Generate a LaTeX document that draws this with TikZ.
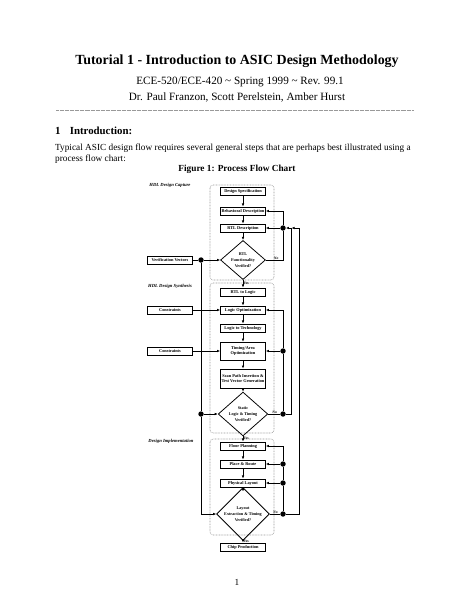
\documentclass[tikz,border=0pt]{standalone}
\usepackage{fontspec}
\setmainfont{Liberation Serif}
\usetikzlibrary{arrows.meta,shapes.geometric}
\begin{document}
\begin{tikzpicture}[x=1.29114pt,y=-1.29114pt,
  box/.style={draw, line width=1pt, minimum width=58pt, minimum height=10.5pt, inner sep=0.8pt, font=\fontsize{5.6}{6.4}\selectfont\bfseries, align=center},
  dia/.style={draw, diamond, line width=1pt, minimum width=58pt, minimum height=46pt, inner sep=0pt, font=\fontsize{5.4}{8}\selectfont\bfseries, align=center},
  lbl/.style={font=\fontsize{6}{6.5}\selectfont\bfseries\itshape},
  yn/.style={font=\fontsize{4.8}{5}\selectfont\bfseries\itshape, inner sep=0.6pt},
  jdot/.style={circle, fill=black, draw=none, inner sep=0pt, minimum size=7pt},
  arr/.style={-{Latex[length=4pt,width=3.4pt]}, line width=1.1pt},
  ln/.style={line width=1.1pt},
  frame/.style={draw=gray!80, dash pattern=on 1pt off 1pt, rounded corners=4pt, line width=0.7pt}]
\useasboundingbox[fill=white] (0,0) rectangle (474,613);

% header
\node[font=\fontsize{18}{20}\selectfont\bfseries] (title) at (237,61) {Tutorial 1 - Introduction to ASIC Design Methodology};
\node[font=\fontsize{14.4}{16}\selectfont] (sub1) at (240,82) {ECE-520/ECE-420 \textasciitilde\ Spring 1999 \textasciitilde\ Rev. 99.1};
\node[font=\fontsize{14.4}{16}\selectfont] (sub2) at (237,97) {Dr. Paul Franzon, Scott Perelstein, Amber Hurst};
\draw[gray!80, dash pattern=on 0.8pt off 0.8pt, line width=0.35pt] (56,110) -- (414,110);
\node[anchor=west, inner sep=0pt, font=\fontsize{14}{16}\selectfont\bfseries] (sec) at (55,131) {1\hspace{0.85em}Introduction:};
\node[anchor=west, inner sep=0pt, font=\fontsize{12}{14}\selectfont] (p1) at (55,148) {Typical ASIC design flow requires several general steps that are perhaps best illustrated using a};
\node[anchor=west, inner sep=0pt, font=\fontsize{12}{14}\selectfont] (p2) at (55,159.5) {process flow chart:};
\node[font=\fontsize{12}{14}\selectfont\bfseries] (cap) at (237,169) {Figure 1: Process Flow Chart};

% frames
\draw[frame] (210,185) rectangle (274,280);
\draw[frame] (210,283) rectangle (274,433);
\draw[frame] (210,439) rectangle (274,535);

\node[lbl] (lcap) at (170,185) {HDL Design Capture};
\node[lbl] (lsyn) at (170,286) {HDL Design Synthesis};
\node[lbl] (limp) at (171,441) {Design Implementation};

% main column
\node[box] (spec) at (243,191) {Design Specification};
\node[box] (beh) at (243,211) {Behavioral Description};
\node[box] (rtl) at (243,228) {RTL Description};
\node[dia] (d1) at (243,260) {RTL\\Functionality\\Verified?};
\node[box] (r2l) at (243,292) {RTL to Logic};
\node[box] (lopt) at (243,310) {Logic Optimization};
\node[box] (l2t) at (243,328) {Logic to Technology};
\node[box, minimum height=23pt] (ta) at (243,351) {Timing/Area\\Optimization};
\node[box, minimum height=24.5pt] (scan) at (243,378.5) {Scan Path Insertion \&\\Test Vector Generation};
\node[dia, minimum width=64pt] (d2) at (243,414) {Static\\Logic \& Timing\\Verified?};
\node[box] (fp) at (243,446) {Floor Planning};
\node[box] (pr) at (243,464) {Place \& Route};
\node[box] (pl) at (243,483) {Physical Layout};
\node[dia, minimum width=64pt] (d3) at (243,514) {Layout\\Extraction \& Timing\\Verified?};
\node[box] (chip) at (243,547) {Chip Production};

% left inputs
\node[box] (vv) at (170,260) {Verification Vectors};
\node[box] (c1) at (170,310) {Constraints};
\node[box] (c2) at (170,351) {Constraints};

% dots
\node[jdot] (dL1) at (201,260) {};
\node[jdot] (dL2) at (201,414) {};
\node[jdot] (dR1) at (283,228) {};
\node[jdot] (dR2) at (283,351) {};
\node[jdot] (dR3) at (283,414) {};
\node[jdot] (dR4) at (283,464) {};
\node[jdot] (dR5) at (283,483) {};
\node[jdot] (dR6) at (283,514) {};
\coordinate (m1) at (291.5,228);

% main flow
\draw[arr] (spec) -- (beh);
\draw[arr] (beh) -- (rtl);
\draw[arr] (rtl) -- (d1);
\draw[arr] (d1) -- node[yn, right, pos=0.4] {Yes} (r2l);
\draw[arr] (r2l) -- (lopt);
\draw[arr] (lopt) -- (l2t);
\draw[arr] (l2t) -- (ta);
\draw[arr] (ta) -- (scan);
\draw[arr] (scan) -- (d2);
\draw[arr] (d2) -- node[yn, right, pos=0.35] {Yes} (fp);
\draw[arr] (fp) -- (pr);
\draw[arr] (pr) -- (pl);
\draw[arr] (pl) -- (d3);
\draw[arr] (d3) -- node[yn, right, pos=0.4] {Yes} (chip);

% left side
\draw[ln] (vv) -- (dL1);
\draw[arr] (dL1) -- (d1);
\draw[ln] (dL1) -- (dL2);
\draw[arr] (dL2) -- (d2);
\draw[arr] (dL2) |- (d3);
\draw[arr] (c1) -- (lopt);
\draw[arr] (c2) -- (ta);

% right side: capture loop
\draw[ln] (d1.east) -| node[yn, above, pos=0.3] {No} (dR1);
\draw[arr] (dR1) -- (rtl);
\draw[arr] (dR1) |- (beh);

% synthesis loop
\draw[ln] (d2.east) -- node[yn, above, pos=0.55] {No} (dR3);
\draw[ln] (dR3) -- (dR2);
\draw[arr] (dR2) -- (ta);
\draw[arr] (dR2) |- (lopt);
\draw[arr] (dR3) -| ++(8.5,0) |- (dR1);

% implementation loop
\draw[ln] (d3.east) -- node[yn, above, pos=0.55] {No} (dR6);
\draw[ln] (dR6) -- (dR5);
\draw[arr] (dR5) -- (pl);
\draw[ln] (dR5) -- (dR4);
\draw[arr] (dR4) -- (pr);
\draw[arr] (dR4) |- (fp);
\draw[arr] (dR6) -- ++(16,0) |- (m1);

% page number
\node[font=\fontsize{12}{14}\selectfont] (pg) at (237,582) {1};
\end{tikzpicture}
\end{document}
